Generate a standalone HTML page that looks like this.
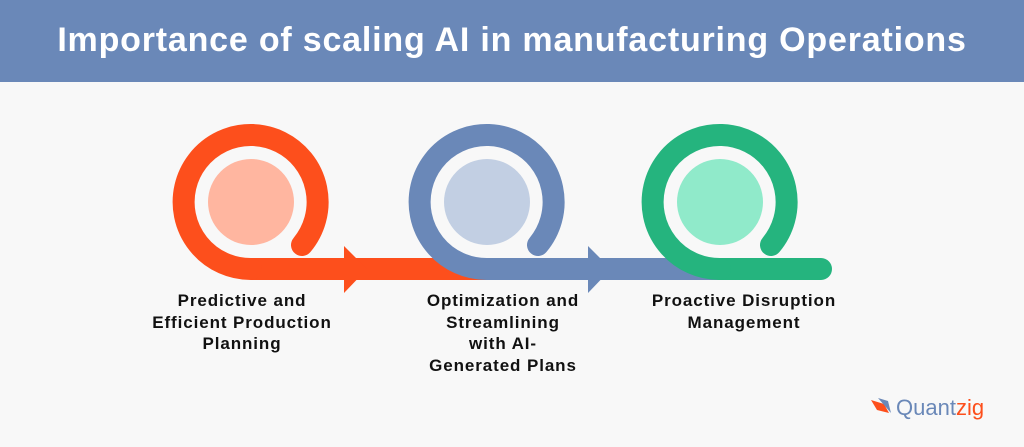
<!DOCTYPE html>
<html><head><meta charset="utf-8"><style>
html,body{margin:0;padding:0;}
body{width:1024px;height:447px;background:#f8f8f8;position:relative;overflow:hidden;font-family:"Liberation Sans",sans-serif;}
.hdr{position:absolute;left:0;top:0;width:1024px;height:82px;background:#6a88b8;}
.title{position:absolute;left:0;width:1024px;top:21px;text-align:center;color:#fff;font-weight:bold;font-size:34px;letter-spacing:0.8px;line-height:38px;}
.lbl{position:absolute;text-align:center;font-weight:bold;font-size:17px;letter-spacing:0.9px;line-height:21.7px;color:#111;width:240px;}
</style></head><body>
<div class="hdr"></div>
<div class="title">Importance of scaling AI in manufacturing Operations</div>
<svg width="1024" height="447" style="position:absolute;left:0;top:0">
 <circle cx="251" cy="202" r="43" fill="#ffb6a0"/>
 <line x1="251" y1="269" x2="487" y2="269" stroke="#fd4f1c" stroke-width="22"/>
 <polygon points="344,246 367,269 344,293" fill="#fd4f1c"/>
 <path d="M251 269 A67 67 0 1 1 302 245" fill="none" stroke="#fd4f1c" stroke-width="22" stroke-linecap="round"/>
 <circle cx="487" cy="202" r="43" fill="#c2cfe3"/>
 <line x1="487" y1="269" x2="720" y2="269" stroke="#6a88b8" stroke-width="22"/>
 <polygon points="588,246 611,269 588,293" fill="#6a88b8"/>
 <path d="M487 269 A67 67 0 1 1 538 245" fill="none" stroke="#6a88b8" stroke-width="22" stroke-linecap="round"/>
 <circle cx="720" cy="202" r="43" fill="#90eaca"/>
 <line x1="720" y1="269" x2="821" y2="269" stroke="#25b47e" stroke-width="22" stroke-linecap="round"/>
 <path d="M720 269 A67 67 0 1 1 771 245" fill="none" stroke="#25b47e" stroke-width="22" stroke-linecap="round"/>
 <polygon points="871,400 884,404 889,413 877,410" fill="#fd4f1c"/>
 <polygon points="878,398 888,401 891,413" fill="#6a88b8"/>
 <text x="896" y="415" font-family="Liberation Sans, sans-serif" font-size="22" fill="#6a88b8">Quant<tspan fill="#fd4f1c">zig</tspan></text>
</svg>
<div class="lbl" style="left:122px;top:290px">Predictive and<br>Efficient Production<br>Planning</div>
<div class="lbl" style="left:383px;top:290px">Optimization and<br>Streamlining<br>with AI-<br>Generated Plans</div>
<div class="lbl" style="left:624px;top:290px">Proactive Disruption<br>Management</div>
</body></html>
